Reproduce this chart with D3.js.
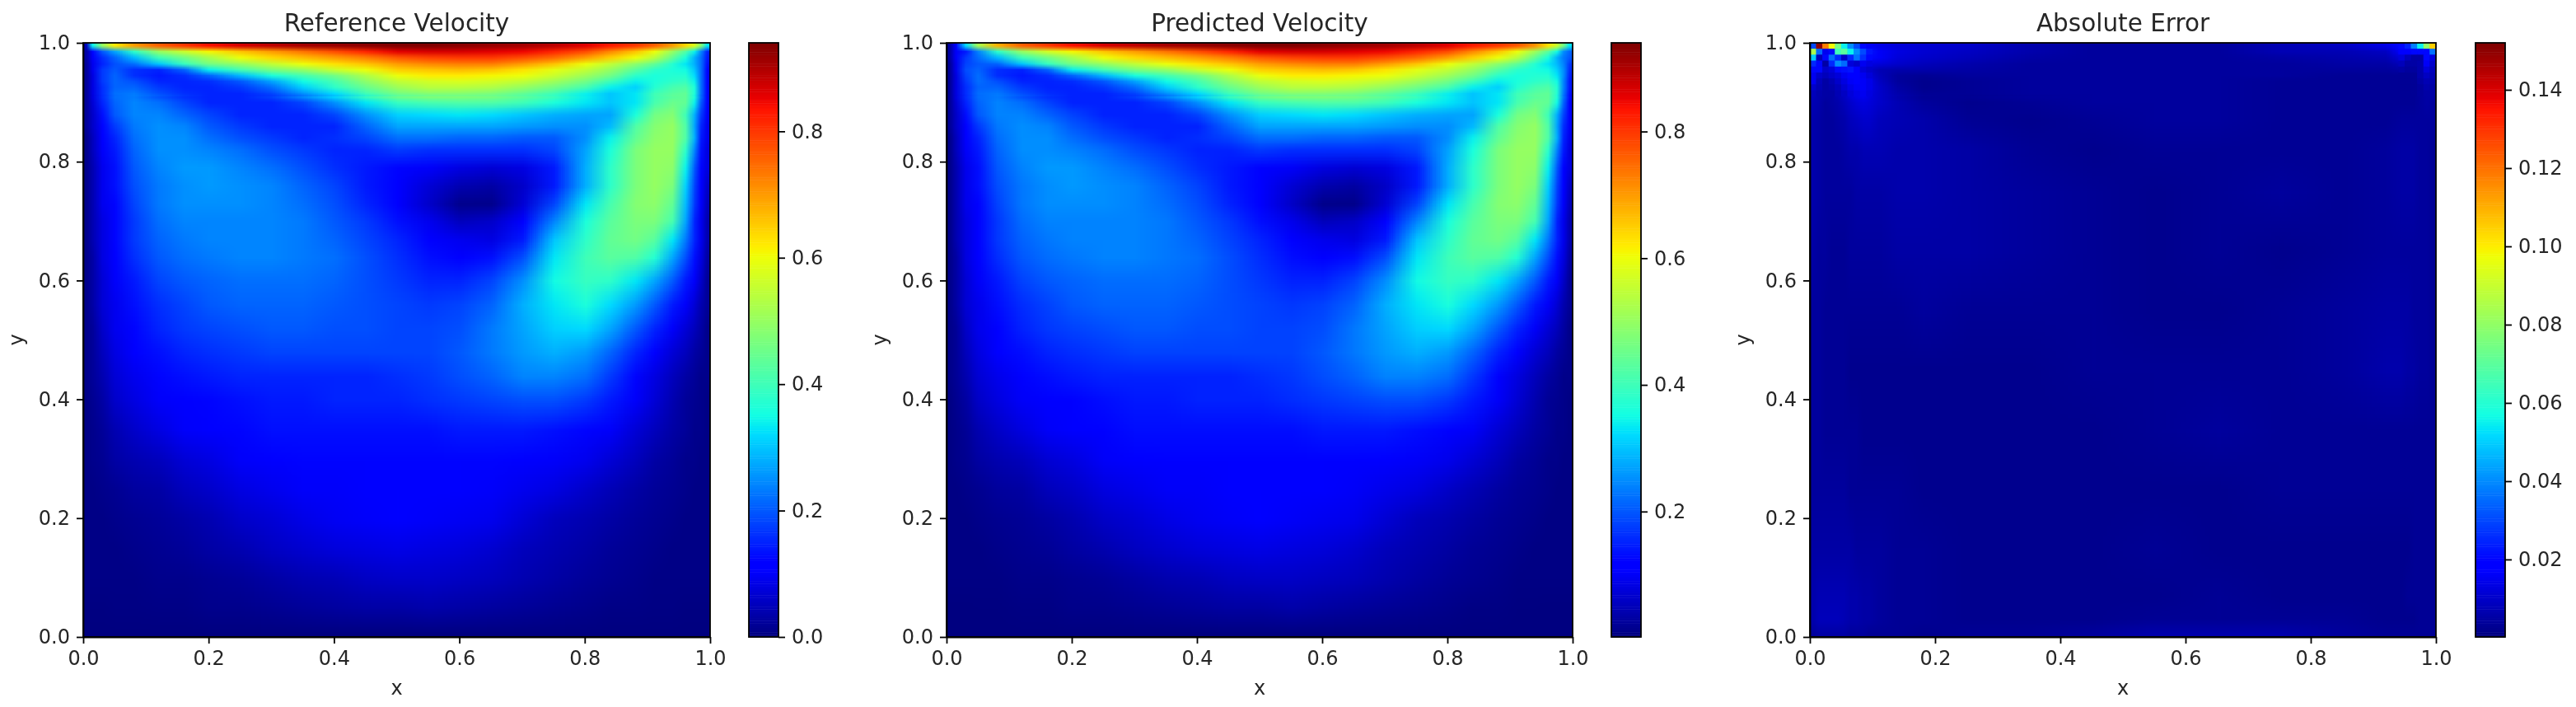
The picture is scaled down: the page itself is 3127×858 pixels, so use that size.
<!DOCTYPE html>
<html lang="en">
<head>
    <meta charset="UTF-8">
    <title>Lid driven cavity velocity</title>
    <script src="https://d3js.org/d3.v7.min.js"></script>
    <style>
        html, body { margin: 0; background: #fff; overflow: hidden; }
        canvas, svg { position: absolute; left: 0; top: 0; }
        text { font-family: "DejaVu Sans", sans-serif; fill: #262626; }
        .domain, .tick line { stroke: #000; stroke-width: 1.8px; }
        .tick text { font-size: 24px; }
    </style>
</head>
<body>
    <canvas id="heat" width="3127" height="858"></canvas>
    <svg id="chart" width="3127" height="858"></svg>

    <script>
        // sample positions, denser where the field changes fast
        const velX = [.005,.015,.03,.05,.08,.12,.16,.2,.25,.3,.35,.4,.45,.5,.55,.6,.65,.7,.75,.8,.84,.88,.91,.94,.96,.975,.985,.995];
        const velY = [.995,.985,.975,.965,.955,.945,.935,.925,.915,.9,.88,.86,.84,.82,.79,.76,.73,.7,.67,.64,.6,.56,.52,.48,.44,.4,.35,.3,.25,.2,.15,.1,.05,.005];

        // velocity x 100, one row per velY, top row first
        const referenceVelocity = [
            [5,34,50,62,70,76,80,84,87,89,91,92,93,94,94,93,92,91,89,86,83,80,76,70,64,58,48,33],
            [3,12,20,27,38,50,56,61,66,70,74,78,82,86,87,87,86,85,82,78,72,66,60,50,42,34,24,15],
            [3,10,16,21,29,40,46,52,60,64,67,70,73,77,79,80,80,78,75,70,65,60,54,44,36,28,22,14],
            [2,9,15,19,22,30,39,46,50,55,60,63,66,70,72,73,73,70,66,60,55,49,44,37,33,28,22,13],
            [2,9,17,20,16,15,21,34,41,47,50,56,60,65,66,67,66,63,59,55,50,43,38,36,35,30,22,12],
            [2,8,17,21,16,14,16,21,29,36,41,46,53,60,62,62,61,60,56,51,46,38,36,37,37,32,22,12],
            [2,8,17,21,19,15,15,16,20,27,35,41,49,55,57,58,57,55,51,46,40,34,36,38,39,34,22,12],
            [2,8,16,21,21,17,15,15,17,22,31,38,45,51,54,54,53,50,46,41,34,31,37,41,42,36,22,12],
            [2,8,16,22,23,19,16,15,15,18,25,32,40,46,48,48,47,44,40,34,30,33,40,43,44,36,22,12],
            [2,7,15,21,24,22,18,15,15,15,18,25,33,39,41,42,42,40,36,33,30,33,41,45,44,34,20,12],
            [2,6,13,20,24,24,21,18,15,15,15,18,25,31,32,33,32,30,28,27,27,36,46,48,40,28,17,10],
            [2,6,12,17,23,25,24,20,17,15,15,15,21,27,27,27,27,26,25,25,29,42,48,50,42,27,15,9],
            [1,5,11,15,22,25,25,22,19,17,15,16,18,22,22,21,21,20,20,25,34,44,49,50,42,28,14,9],
            [1,5,10,14,21,25,25,24,22,19,17,15,15,17,16,16,16,16,18,27,36,47,50,50,38,24,13,8],
            [1,4,9,13,20,24,26,26,24,22,19,16,14,12,10,8,7,8,14,28,38,47,50,49,34,20,12,8],
            [1,4,9,13,19,23,25,26,25,24,21,18,14,11,7,4,3,6,14,28,38,47,50,47,31,18,11,6],
            [1,4,9,12,18,23,25,25,25,24,22,19,15,11,6,1,1,7,18,33,41,48,49,44,29,17,10,5],
            [1,4,8,12,17,22,24,24,24,24,23,20,17,13,9,5,6,11,24,36,43,47,47,41,27,15,9,4],
            [1,4,8,12,17,21,23,24,24,24,23,21,18,15,11,9,8,14,30,38,44,46,43,33,23,15,9,4],
            [1,3,8,11,16,20,22,23,24,24,23,22,19,16,13,11,13,19,33,40,43,42,37,27,19,13,8,3],
            [1,3,7,10,14,18,20,21,22,22,22,21,19,17,15,15,18,25,35,39,38,33,27,20,14,10,6,2],
            [1,3,7,9,13,16,18,20,21,21,21,20,19,18,17,18,21,28,33,36,32,26,20,14,10,7,4,2],
            [1,2,6,9,12,15,17,18,19,20,20,19,19,18,18,19,23,27,31,32,27,20,15,10,7,5,3,1],
            [1,2,5,8,11,13,15,16,17,18,18,18,18,18,18,20,23,26,28,26,21,15,11,7,5,3,2,1],
            [1,2,4,7,9,12,13,14,15,15,15,15,15,16,17,19,21,24,24,22,17,12,8,5,3,2,1,1],
            [.5,1.5,3,6,8,10,11,12,13,14,14,15,15,15,16,17,18,19,19,17,14,10,7,4,2,1.5,1,.5],
            [.5,1,2,4,6,8,10,11,12,13,13,13,13,13,13,14,14,14,13,12,10,7,5,3,2,1,1,.5],
            [.5,1,1.5,3,4,5,7,8,10,11,12,12,12,12,12,12,12,11,10,9,7,5,3,2,1,1,.5,.5],
            [.5,.5,1,1.5,2.5,3,5,6,8,9,10,10,11,11,11,11,10,9,8,6,4.5,3,2,1.5,1,.5,.5,.5],
            [.5,.5,.5,1,1.5,2,3,4,6,7,8.5,9.5,10,10.5,10,9.5,9,7,5,4,3,2,1.5,1,.5,.5,.5,.5],
            [.5,.5,.5,.5,1,1.5,2,3,4,5.5,6.5,7.5,8,8.5,8,7.5,6.5,5,4,3,2,1.5,1,.5,.5,.5,.5,.5],
            [.5,.5,.5,.5,.5,1,1,1.5,2,3,4,4.5,5.5,6,6,5.5,5,4,3,2,1.5,1,.5,.5,.5,.5,.5,.5],
            [.2,.2,.2,.3,.3,.5,.5,1,1,1.5,2,2.5,3,3,3.5,3,2.5,2,1.5,1,.5,.5,.3,.3,.2,.2,.2,.2],
            [0,0,0,0,0,0,0,0,0,0,0,0,0,0,0,0,0,0,0,0,0,0,0,0,0,0,0,0]
        ];

        const predictedVelocity = [
            [3,12,32,52,68,76,80,84,87,89,91,92,93,94,94,93,92,91,89,86,83,80,77,71,63,56,46,33],
            [3,10,14,24,38,50,57,61,66,70,74,78,82,86,87,87,86,85,82,78,72,66,60,51,43,35,25,21],
            [3,10,17,22,29,40,46,52,60,64,67,70,73,77,79,80,80,78,75,70,65,60,54,44,36,28,23,20],
            [2,9,18,20,21,30,39,46,50,55,60,63,66,70,72,73,73,70,66,60,55,49,44,37,33,29,24,17],
            [2,9,19,21,16,15,21,34,41,47,50,56,60,65,66,67,66,63,59,55,50,43,38,36,35,31,25,16],
            [2,8,18,22,16,14,16,21,29,36,41,46,53,60,62,62,61,60,56,51,46,38,36,37,37,33,25,15],
            [2,8,17,22,19,15,15,16,20,27,35,41,49,55,57,58,57,55,51,46,40,34,36,38,39,35,24,14],
            [2,8,16,21,21,17,15,15,17,22,31,38,45,51,54,54,53,50,46,41,34,31,37,41,42,37,24,14],
            [2,8,16,22,23,19,16,15,15,18,25,32,40,46,48,48,47,44,40,34,30,33,40,43,44,37,23,13],
            [2,7,15,21,24,22,18,15,15,15,18,25,33,39,41,42,42,40,36,33,30,33,41,45,44,35,21,12],
            [2,6,13,20,24,24,21,18,15,15,15,18,25,31,32,33,32,30,28,27,27,36,46,48,40,28,18,11],
            [2,6,12,17,23,25,24,20,17,15,15,15,21,27,27,27,27,26,25,25,29,42,48,50,42,27,16,10],
            [1,5,11,15,22,25,25,22,19,17,15,16,18,22,22,21,21,20,20,25,34,44,49,50,42,28,15,9],
            [1,5,10,14,21,25,25,24,22,19,17,15,15,17,16,16,16,16,18,27,36,47,50,50,38,24,14,8],
            [1,4,9,13,20,24,26,26,24,22,19,16,14,12,10,8,7,8,14,28,38,47,50,49,34,20,12,8],
            [1,4,9,13,19,23,25,26,25,24,21,18,14,11,7,4,3,6,14,28,38,47,50,47,31,18,11,6],
            [1,4,9,12,18,23,25,25,25,24,22,19,15,11,6,1,1,7,18,33,41,48,49,44,29,17,10,5],
            [1,4,8,12,17,22,24,24,24,24,23,20,17,13,9,5,6,11,24,36,43,47,47,41,27,15,9,4],
            [1,4,8,12,17,21,23,24,24,24,23,21,18,15,11,9,8,14,30,38,44,46,43,33,23,15,9,4],
            [1,3,8,11,16,20,22,23,24,24,23,22,19,16,13,11,13,19,33,40,43,42,37,27,19,13,8,3],
            [1,3,7,10,14,18,20,21,22,22,22,21,19,17,15,15,18,25,35,39,38,33,27,20,14,10,6,2],
            [1,3,7,9,13,16,18,20,21,21,21,20,19,18,17,18,21,28,33,36,32,26,20,14,10,7,4,2],
            [1,2,6,9,12,15,17,18,19,20,20,19,19,18,18,19,23,27,31,32,27,20,15,10,7,5,3,1],
            [1,2,5,8,11,13,15,16,17,18,18,18,18,18,18,20,23,26,28,26,21,15,11,7,5,3,2,1],
            [1,2,4,7,9,12,13,14,15,15,15,15,15,16,17,19,21,24,24,22,17,12,8,5,3,2,1,1],
            [.5,1.5,3,6,8,10,11,12,13,14,14,15,15,15,16,17,18,19,19,17,14,10,7,4,2,1.5,1,.5],
            [.5,1,2,4,6,8,10,11,12,13,13,13,13,13,13,14,14,14,13,12,10,7,5,3,2,1,1,.5],
            [.5,1,1.5,3,4,5,7,8,10,11,12,12,12,12,12,12,12,11,10,9,7,5,3,2,1,1,.5,.5],
            [.5,.5,1,1.5,2.5,3,5,6,8,9,10,10,11,11,11,11,10,9,8,6,4.5,3,2,1.5,1,.5,.5,.5],
            [.5,.5,.5,1,1.5,2,3,4,6,7,8.5,9.5,10,10.5,10,9.5,9,7,5,4,3,2,1.5,1,.5,.5,.5,.5],
            [.5,.5,.5,.5,1,1.5,2,3,4,5.5,6.5,7.5,8,8.5,8,7.5,6.5,5,4,3,2,1.5,1,.5,.5,.5,.5,.5],
            [.5,.5,.5,.5,.5,1,1,1.5,2,3,4,4.5,5.5,6,6,5.5,5,4,3,2,1.5,1,.5,.5,.5,.5,.5,.5],
            [.2,.2,.2,.3,.3,.5,.5,1,1,1.5,2,2.5,3,3,3.5,3,2.5,2,1.5,1,.5,.5,.3,.3,.2,.2,.2,.2],
            [.2,.2,.2,.2,.2,.2,.2,.2,.2,.2,.2,.2,.2,.2,.2,.2,.2,.2,.2,.2,.2,.2,.2,.2,.2,.2,.2,.2]
        ];

        const errX = [.005,.015,.025,.035,.045,.055,.065,.075,.085,.095,.11,.14,.18,.25,.35,.45,.55,.65,.75,.85,.92,.945,.955,.965,.975,.985,.995];
        const errY = [.995,.985,.975,.965,.955,.945,.935,.925,.915,.9,.87,.82,.75,.65,.55,.45,.35,.25,.15,.07,.03,.005];

        // error x 1000, one row per errY, top row first
        const absoluteError = [
            [30,150,118,98,75,55,40,30,20,16,14,12,11,10,6,4,4,4,7,9,14,20,24,38,55,80,105],
            [85,35,15,20,65,70,55,40,30,22,16,13,11,9,6,4,4,4,7,7,9,18,17,20,20,20,36],
            [50,8,20,35,25,10,25,36,26,20,16,12,10,8,5,4,4,4,5,6,7,12,8,5,5,20,13],
            [25,20,5,25,40,35,12,10,15,13,12,10,8,6,4,4,4,4,4,5,5,8,5,5,6,16,10],
            [20,20,10,12,20,21,22,18,12,10,7,6,6,5,4,4,4,4,4,4,4,5,4,4,6,12,8],
            [15,10,8,10,12,15,18,18,15,12,8,4,3,4,4,4,4,4,4,3,3,3,3,3,6,9,7],
            [15,8,5,7,10,13,16,17,16,14,9,4,2,3,4,4,4,4,3,3,3,3,3,3,5,7,6],
            [10,7,5,6,8,11,14,16,16,14,10,5,2,3,4,4,4,4,3,3,3,3,3,3,4,6,5],
            [8,6,5,5,7,9,12,14,15,13,10,6,3,3,4,4,4,4,3,3,3,3,3,3,4,5,5],
            [7,6,4,5,6,8,10,12,13,12,10,7,4,2,3,4,4,4,3,3,3,3,3,3,4,5,4],
            [6,5,4,4,5,6,8,9,10,10,8,7,6,3,2,3,4,4,3,3,3,4,4,4,4,4,4],
            [6,5,4,4,4,5,6,6,7,7,7,6,6,5,3,2,3,3,3,3,4,5,5,5,4,4,3],
            [6,5,4,4,4,4,4,5,5,5,5,6,6,5,4,3,2,3,4,3,4,5,5,5,4,4,3],
            [5,4,4,3,3,3,4,4,4,4,4,5,5,5,4,3,2,3,2,3,4,4,4,4,4,4,3],
            [4,4,3,3,3,3,3,3,3,3,3,3,4,3,3,3,2,2,3,4,5,5,5,4,4,4,3],
            [4,4,3,3,3,3,2,2,2,2,2,2,2,2,2,3,3,3,3,4,6,6,5,5,4,4,3],
            [4,4,3,3,3,3,3,3,2,2,2,2,2,2,2,2,3,4,3,3,3,3,3,3,3,3,3],
            [4,4,4,4,4,4,3,3,3,3,3,3,2,2,2,2,2,2,3,3,3,3,3,3,3,3,3],
            [5,5,5,5,5,5,5,4,4,4,4,3,3,2,2,2,3,2,2,2,2,2,2,3,3,3,3],
            [6,7,7,7,7,7,6,6,5,5,4,3,3,2,2,2,2,3,2,2,2,2,3,3,3,3,3],
            [6,8,8,8,8,7,6,6,5,5,4,3,3,2,2,2,3,3,3,3,2,2,2,2,3,3,3],
            [4,5,5,5,5,5,4,4,4,3,3,3,2,3,3,4,6,6,6,4,3,3,3,3,3,3,3]
        ];

        const axisTicks = [0, .2, .4, .6, .8, 1];
        const velocityTicks = [0, .2, .4, .6, .8];
        const predictedTicks = [.2, .4, .6, .8];
        const errorTicks = [.02, .04, .06, .08, .1, .12, .14];

        // matplotlib jet breakpoints
        const jetStops = [0, .11, .125, .34, .35, .375, .64, .65, .66, .89, .91, 1];
        const jetColors = ["rgb(0,0,128)", "rgb(0,0,255)", "rgb(0,0,255)", "rgb(0,219,255)", "rgb(0,230,247)", "rgb(21,255,226)",
            "rgb(238,255,8)", "rgb(247,246,0)", "rgb(255,236,0)", "rgb(255,19,0)", "rgb(232,0,0)", "rgb(128,0,0)"];
        const jet = d3.scaleLinear().domain(jetStops).range(jetColors);

        const plotTop = 52, plotBottom = 773;
        const panels = [
            { title: "Reference Velocity", left: 101, right: 862, barLeft: 909, barRight: 945, xs: velX, ys: velY, rows: referenceVelocity, unit: 100, vmin: 0, vmax: .94, barTicks: velocityTicks, fmt: ".1f" },
            { title: "Predicted Velocity", left: 1149, right: 1909, barLeft: 1956, barRight: 1992, xs: velX, ys: velY, rows: predictedVelocity, unit: 100, vmin: .002, vmax: .94, barTicks: predictedTicks, fmt: ".1f" },
            { title: "Absolute Error", left: 2197, right: 2957, barLeft: 3005, barRight: 3041, xs: errX, ys: errY, rows: absoluteError, unit: 1000, vmin: .0002, vmax: .152, barTicks: errorTicks, fmt: ".2f", blocks: true }
        ];

        const svg = d3.select("#chart");
        const ctx = document.getElementById("heat").getContext("2d");

        panels.forEach(p => {
            const x = d3.scaleLinear().domain([0, 1]).range([p.left, p.right]);
            const y = d3.scaleLinear().domain([0, 1]).range([plotBottom, plotTop]);
            const value = d3.scaleLinear().domain([p.vmin, p.vmax]).range([0, 1]).clamp(true);
            const color = v => jet(value(v / p.unit));

            drawField(p, x, y, color);

            const g = svg.append("g");
            g.append("g").attr("transform", `translate(0,${plotBottom})`)
                .call(d3.axisBottom(x).tickValues(axisTicks).tickFormat(d3.format(".1f")).tickSize(8).tickSizeOuter(0).tickPadding(9));
            g.append("g").attr("transform", `translate(${p.left},0)`)
                .call(d3.axisLeft(y).tickValues(axisTicks).tickFormat(d3.format(".1f")).tickSize(8).tickSizeOuter(0).tickPadding(8));
            g.append("rect").attr("x", p.left).attr("y", plotTop)
                .attr("width", p.right - p.left).attr("height", plotBottom - plotTop)
                .attr("fill", "none").attr("stroke", "#000").attr("stroke-width", 1.8);

            g.append("text").attr("x", (p.left + p.right) / 2).attr("y", 38)
                .attr("text-anchor", "middle").attr("font-size", 29.5).text(p.title);
            g.append("text").attr("x", (p.left + p.right) / 2).attr("y", 843)
                .attr("text-anchor", "middle").attr("font-size", 24).text("x");
            g.append("text").attr("transform", `translate(${p.left - 73},${(plotTop + plotBottom) / 2}) rotate(-90)`)
                .attr("text-anchor", "middle").attr("font-size", 24).text("y");

            // colour bar, 256 levels like the jet lookup table
            const levels = d3.range(256);
            const barY = d3.scaleBand().domain(levels).range([plotBottom, plotTop]);
            g.append("g").selectAll("rect").data(levels).enter().append("rect")
                .attr("x", p.barLeft).attr("width", p.barRight - p.barLeft)
                .attr("y", d => barY(d)).attr("height", barY.bandwidth() + .5)
                .attr("fill", d => jet(d / 255));
            const barScale = d3.scaleLinear().domain([p.vmin, p.vmax]).range([plotBottom, plotTop]);
            g.append("g").attr("transform", `translate(${p.barRight},0)`)
                .call(d3.axisRight(barScale).tickValues(p.barTicks).tickFormat(d3.format(p.fmt)).tickSize(8).tickSizeOuter(0).tickPadding(8))
                .select(".domain").remove();
            g.append("rect").attr("x", p.barLeft).attr("y", plotTop)
                .attr("width", p.barRight - p.barLeft).attr("height", plotBottom - plotTop)
                .attr("fill", "none").attr("stroke", "#000").attr("stroke-width", 1.8);
        });

        // each reading becomes one pixel of a small image, the browser smooths it when it is scaled up
        function drawField(p, x, y, color) {
            const nx = p.xs.length, ny = p.ys.length;
            const small = document.createElement("canvas");
            small.width = nx;
            small.height = ny;
            const sctx = small.getContext("2d");
            p.rows.forEach((row, j) => row.forEach((v, i) => {
                sctx.fillStyle = color(v);
                sctx.fillRect(i, j, 1, 1);
            }));

            const fine = (a, k) => Math.abs(a[k] - a[k - 1]) < .011 || Math.abs(a[k] - a[k + 1]) < .011;

            // rows one cell apart stay as flat bands, the coarser ones blend into each other
            const bands = [];
            p.ys.forEach((d, j) => {
                const here = fine(p.ys, j);
                if (here) bands.push({ sy: j, sh: 1, y0: y(d + .005), y1: y(d - .005) });
                if (j < ny - 1) {
                    const next = p.ys[j + 1], nextFine = fine(p.ys, j + 1);
                    if (!(here && nextFine)) {
                        bands.push({ sy: j + .5, sh: 1, y0: y(here ? d - .005 : d), y1: y(nextFine ? next + .005 : next) });
                    }
                } else {
                    bands.push({ sy: j + .5, sh: .5, y0: y(d), y1: y(0) });
                }
            });

            const srcX = [0].concat(d3.range(nx).map(i => i + .5), [nx]);
            const dstX = [0].concat(p.xs, [1]).map(d => Math.round(x(d)));

            ctx.imageSmoothingEnabled = true;
            ctx.imageSmoothingQuality = "low";
            bands.forEach(b => {
                const y0 = Math.round(b.y0), y1 = Math.round(b.y1);
                for (let i = 0; i < srcX.length - 1; i++) {
                    ctx.drawImage(small,
                        srcX[i], b.sy, srcX[i + 1] - srcX[i], b.sh,
                        dstX[i], y0, dstX[i + 1] - dstX[i], y1 - y0);
                }
            });

            // the error corners are single visible cells in the original
            if (p.blocks) {
                p.rows.forEach((row, j) => {
                    if (!fine(p.ys, j)) return;
                    row.forEach((v, i) => {
                        if (!fine(p.xs, i)) return;
                        ctx.fillStyle = color(v);
                        ctx.fillRect(x(p.xs[i] - .005), y(p.ys[j] + .005),
                            x(p.xs[i] + .005) - x(p.xs[i] - .005), y(p.ys[j] - .005) - y(p.ys[j] + .005));
                    });
                });
            }
        }
    </script>
</body>
</html>
